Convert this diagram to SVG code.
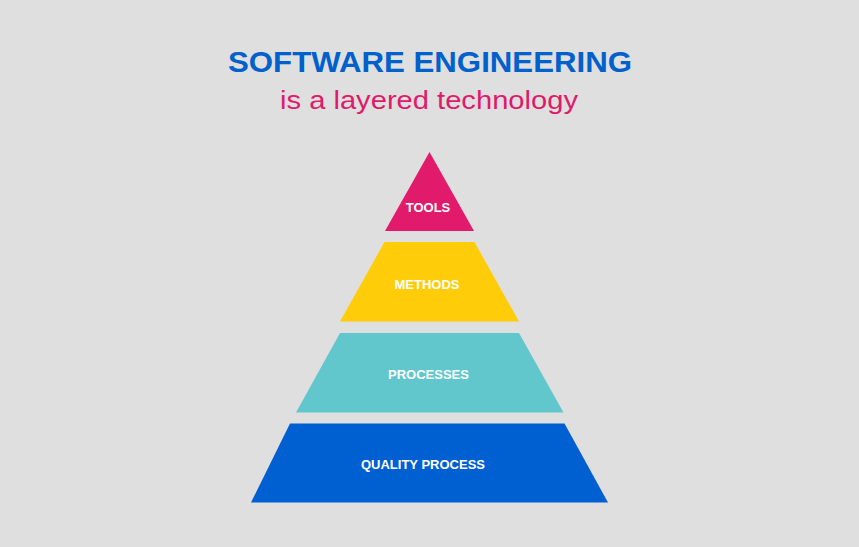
<svg xmlns="http://www.w3.org/2000/svg" width="859" height="547" viewBox="0 0 859 547">
<style>
.lbl{font-family:"Liberation Sans",Arial,sans-serif;font-weight:bold;font-size:13px;fill:#ffffff;text-anchor:middle}
</style>
<rect width="859" height="547" fill="#dfdfdf"/>
<text x="430" y="72" font-family="Liberation Sans, Arial, sans-serif" font-weight="bold" font-size="30" fill="#0060cc" text-anchor="middle" textLength="404" lengthAdjust="spacingAndGlyphs">SOFTWARE ENGINEERING</text>
<text x="429" y="109" font-family="Liberation Sans, Arial, sans-serif" font-size="25" fill="#e01a6a" text-anchor="middle" textLength="298" lengthAdjust="spacingAndGlyphs">is a layered technology</text>
<g id="tools">
<polygon points="429.5,152 474,231 385,231" fill="#e21a6b"/>
<text class="lbl" x="428" y="212">TOOLS</text>
</g>
<g id="methods">
<polygon points="384.5,242 474.5,242 519,321.5 340,321.5" fill="#ffcc0a"/>
<text class="lbl" x="427" y="288.5">METHODS</text>
</g>
<g id="processes">
<polygon points="340,333 519,333 563.5,412.5 296,412.5" fill="#62c7cd"/>
<text class="lbl" x="428.5" y="378.5">PROCESSES</text>
</g>
<g id="quality">
<polygon points="290,423.5 564.5,423.5 608,502.5 251,502.5" fill="#005fd1"/>
<text class="lbl" x="423" y="468.5">QUALITY PROCESS</text>
</g>
<g id="connectors"/>
</svg>
